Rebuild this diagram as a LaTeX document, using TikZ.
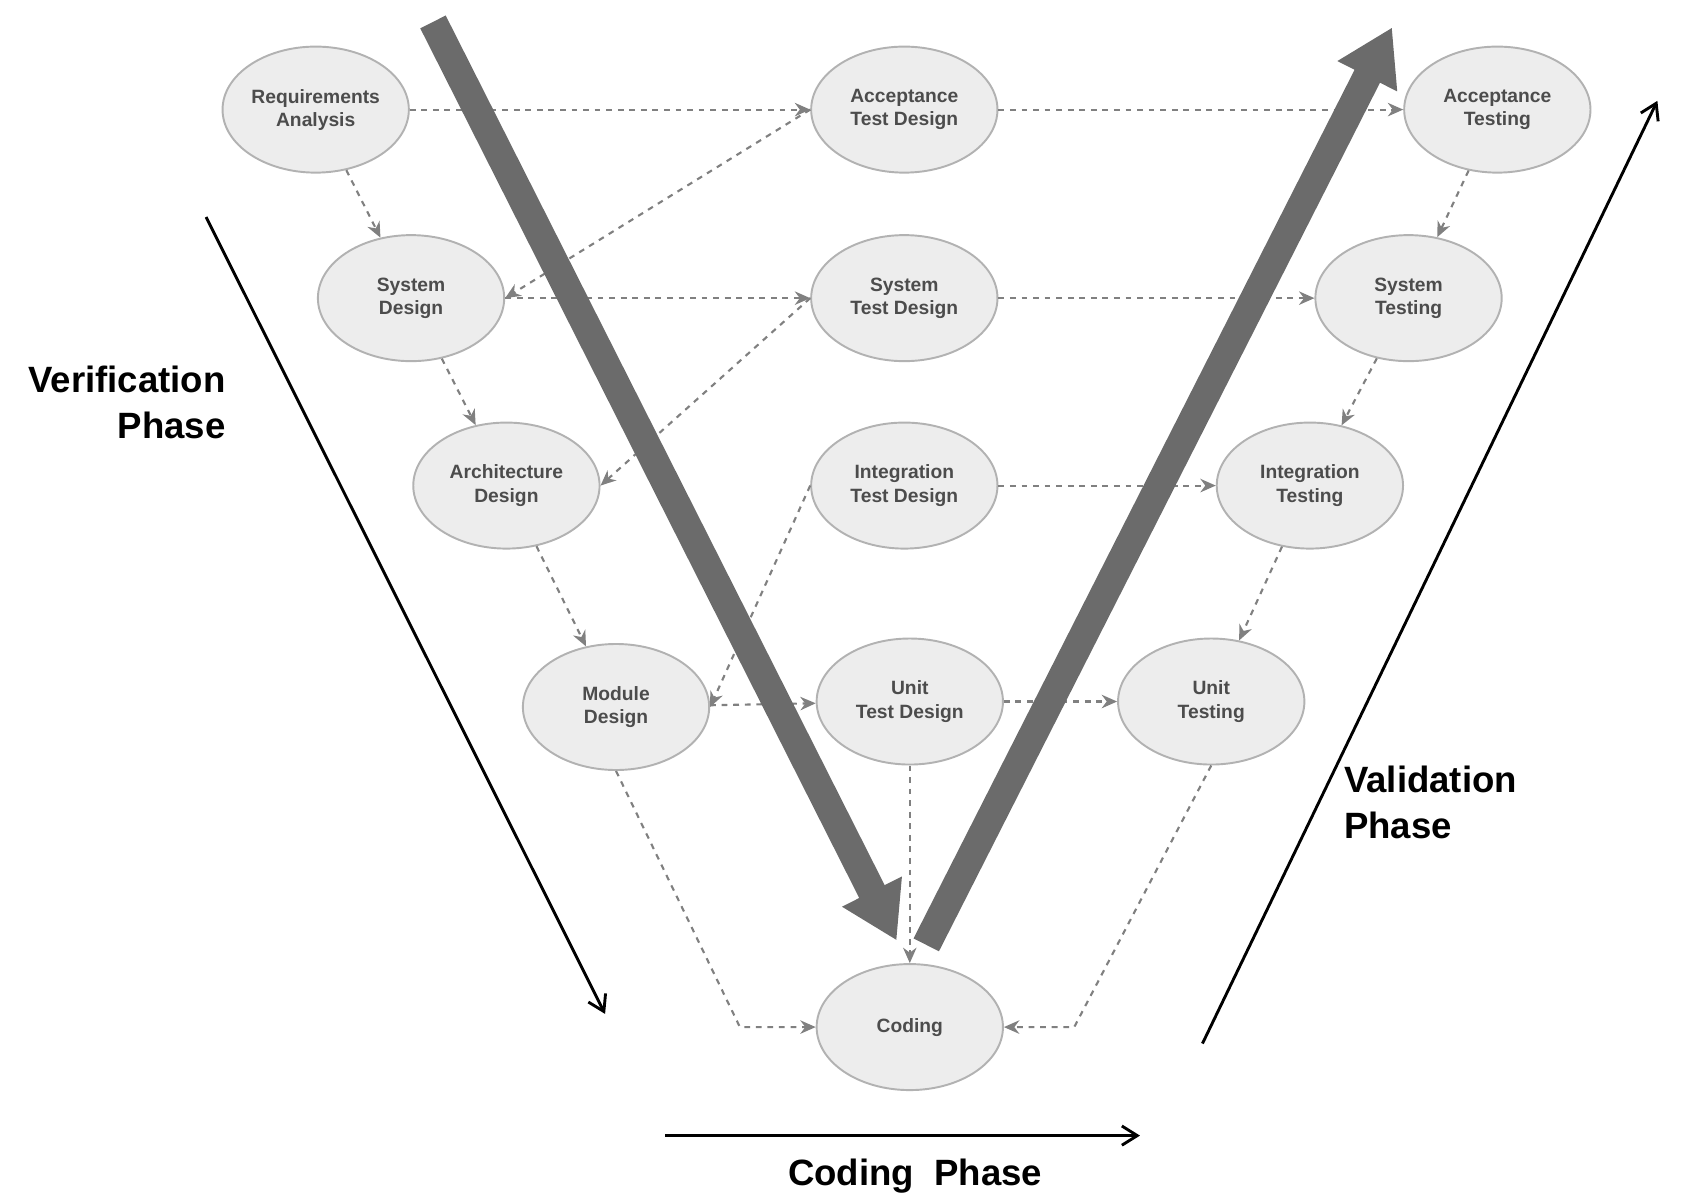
\documentclass[tikz,border=0pt]{standalone}
\usepackage{fontspec}
\setmainfont{Liberation Sans}
\usetikzlibrary{arrows.meta,shapes.geometric}
\begin{document}
\begin{tikzpicture}[x=0.02cm,y=-0.02cm,
  st/.style={ellipse,draw=gray!60,line width=1pt,fill=gray!14,minimum width=3.4cm,minimum height=2.3cm,align=center,font=\fontsize{10}{12}\selectfont\bfseries,text=gray!60!black,inner sep=0pt},
  dl/.style={draw=black!50,dashed,line width=1.1pt,-{Stealth[length=8pt,width=7pt]}},
  big/.style={line width=0.52cm,draw=black!58,-{Triangle[length=1.0cm,width=1.15cm]}},
  ph/.style={line width=1.5pt,-{Straight Barb[length=8pt,width=10pt]}},
  lab/.style={font=\fontsize{19}{24}\selectfont\bfseries}]
\useasboundingbox (0,0) rectangle (1550,1097);
\node[st] (ra) at (288,100) {Requirements\\Analysis};
\node[st] (atd) at (825,100) {Acceptance\\Test Design};
\node[st] (at) at (1366,100) {Acceptance\\Testing};
\node[st] (sd) at (375,272) {System\\Design};
\node[st] (std) at (825,272) {System\\Test Design};
\node[st] (stt) at (1285,272) {System\\Testing};
\node[st] (ad) at (462,443) {Architecture\\Design};
\node[st] (itd) at (825,443) {Integration\\Test Design};
\node[st] (it) at (1195,443) {Integration\\Testing};
\node[st] (md) at (562,645) {Module\\Design};
\node[st] (utd) at (830,640) {Unit\\Test Design};
\node[st] (ut) at (1105,640) {Unit\\Testing};
\node[st] (cod) at (830,937) {Coding};
\draw[dl] (ra) -- (atd);
\draw[dl] (atd) -- (at);
\draw[dl] (ra) -- (sd);
\draw[dl] (at) -- (stt);
\draw[dl] (atd.west) -- (sd.east);
\draw[dl] (sd) -- (std);
\draw[dl] (std) -- (stt);
\draw[dl] (std.west) -- (ad.east);
\draw[dl] (sd) -- (ad);
\draw[dl] (stt) -- (it);
\draw[dl] (itd) -- (it);
\draw[dl] (itd.west) -- (md.east);
\draw[dl] (ad) -- (md);
\draw[dl] (it) -- (ut);
\draw[dl] (md) -- (utd);
\draw[dl] (utd) -- (ut);
\draw[dl] (utd) -- (cod);
\coordinate (c1) at (675,937);
\coordinate (c2) at (980,937);
\draw[dl] (md.south) -- (c1) -- (cod);
\draw[dl] (ut.south) -- (c2) -- (cod);
\coordinate (b1) at (395,20); \coordinate (b2) at (818,858);
\coordinate (b3) at (845,862); \coordinate (b4) at (1270,25);
\draw[big] (b1) -- (b2);
\draw[big] (b3) -- (b4);
\coordinate (v1) at (188,198); \coordinate (v2) at (552,925);
\coordinate (w1) at (1097,952); \coordinate (w2) at (1512,92);
\coordinate (h1) at (607,1036); \coordinate (h2) at (1040,1036);
\draw[ph] (v1) -- (v2);
\draw[ph] (w1) -- (w2);
\draw[ph] (h1) -- (h2);
\node[lab,align=right,anchor=east] (vl) at (212,367) {Verification\\Phase};
\node[lab,align=left,anchor=west] (val) at (1220,732) {Validation\\Phase};
\node[lab] (cp) at (835,1073) {Coding\ \ Phase};
\end{tikzpicture}
\end{document}
